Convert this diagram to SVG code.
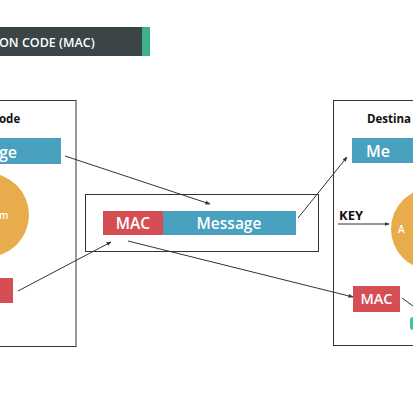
<svg xmlns="http://www.w3.org/2000/svg" width="413" height="413" viewBox="0 0 413 413">
<style>
.box{fill:#fff;stroke:#333;stroke-width:1}
.blue{fill:#4aa0bf}
.red{fill:#d54e53}
.orange{fill:#e9ac4c}
.wt{fill:#fff;font-family:"Open Sans",sans-serif;font-weight:600}
.bt{fill:#111;font-family:"Open Sans",sans-serif;font-weight:bold}
.ln{stroke:#333;stroke-width:1;fill:none;marker-end:url(#ah)}
</style>
<defs>
<marker id="ah" viewBox="0 0 10 10" refX="9" refY="5" markerWidth="5" markerHeight="5" orient="auto" markerUnits="userSpaceOnUse">
<path d="M0,1 L10,5 L0,9 z" fill="#333"/>
</marker>
</defs>
<rect width="413" height="413" fill="#fff"/>
<g id="title">
<rect x="0" y="27" width="142" height="29" fill="#3b4446"/>
<rect x="142" y="27" width="8" height="29" fill="#3fb186"/>
<text class="wt" x="-1" y="47" font-size="12.5" font-weight="bold">ON CODE (MAC)</text>
</g>
<g id="source">
<rect class="box" x="-10" y="100.5" width="86" height="246"/>
<text class="bt" x="-1" y="123" font-size="11.5">ode</text>
<rect class="blue" x="-10" y="138" width="71" height="26"/>
<text class="wt" x="-1" y="158" font-size="16">ge</text>
<circle class="orange" cx="-13" cy="215" r="42"/>
<text class="wt" x="-1" y="219" font-size="10">m</text>
<rect class="red" x="-10" y="278" width="23" height="25"/>
</g>
<g id="transmitted">
<rect class="box" x="85.5" y="194.5" width="233" height="57"/>
<rect class="red" x="103" y="211" width="60" height="24"/>
<rect class="blue" x="163" y="211" width="133" height="24"/>
<text class="wt" x="133" y="229" font-size="15.5" text-anchor="middle">MAC</text>
<text class="wt" x="229" y="229" font-size="15.5" text-anchor="middle">Message</text>
</g>
<g id="destination">
<rect class="box" x="333.5" y="100.5" width="90" height="245"/>
<text class="bt" x="367" y="123" font-size="11.5">Destina</text>
<rect class="blue" x="352" y="138" width="70" height="25"/>
<text class="wt" x="366" y="157" font-size="16">Me</text>
<circle class="orange" cx="432" cy="229" r="41"/>
<text class="wt" x="398" y="233" font-size="10">A</text>
<text class="bt" x="339" y="220" font-size="13">KEY</text>
<rect class="red" x="353" y="286" width="47" height="26"/>
<text class="wt" x="376.5" y="304" font-size="14.5" text-anchor="middle">MAC</text>
<rect x="410" y="317" width="10" height="13" rx="3" fill="#3fc79a"/>
</g>
<g id="connectors">
<line class="ln" x1="65" y1="156" x2="210" y2="204"/>
<line class="ln" x1="18" y1="291" x2="111" y2="242"/>
<line class="ln" x1="298" y1="218" x2="347" y2="157"/>
<line class="ln" x1="338" y1="224" x2="389" y2="224"/>
<line class="ln" x1="128" y1="241" x2="353" y2="297"/>
<line stroke="#333" stroke-width="1" x1="402" y1="298" x2="413" y2="306"/>
</g>
</svg>
